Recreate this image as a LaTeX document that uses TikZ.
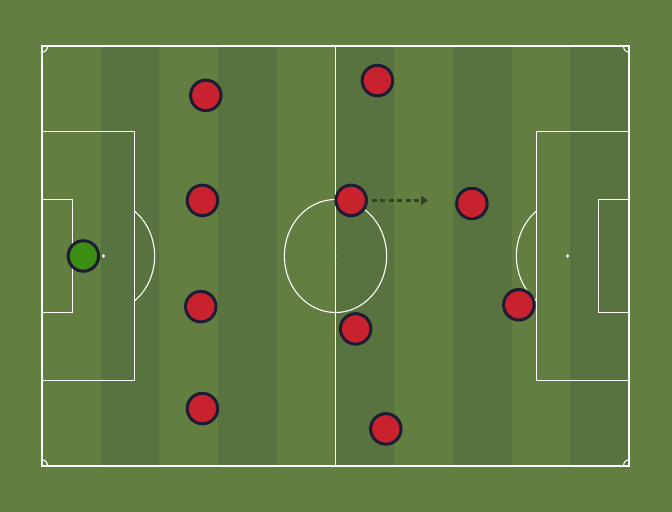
\documentclass[tikz,border=0pt]{standalone}
\usepackage{tikz}
\usetikzlibrary{arrows.meta,shadows}

\definecolor{grass}{RGB}{98,126,65}
\definecolor{stripe}{RGB}{88,115,63}
\definecolor{shirt}{RGB}{200,34,47}
\definecolor{keeper}{RGB}{59,141,19}
\definecolor{rim}{RGB}{29,28,51}
\definecolor{runline}{RGB}{52,67,31}

\tikzset{
  pitchline/.style={white, line width=1.1pt},
  player/.style={circle, fill=shirt, draw=rim, line width=3pt, minimum size=30.5pt, inner sep=0pt,
    drop shadow={opacity=0.25, shadow xshift=0.5pt, shadow yshift=-1pt}},
  goalie/.style={player, fill=keeper},
  run/.style={runline, line width=3pt, dash pattern=on 5pt off 3.5pt, -{Triangle[length=7pt,width=9pt]}}
}

\begin{document}
\begin{tikzpicture}[x=5.5905pt, y=6.176pt]
\fill [grass] (-7.513,-7.448) rectangle (112.69,75.45) ;
\useasboundingbox (-7.513,-7.448) rectangle (112.69,75.45) ;

% stripes
\foreach \i in {1,3,...,9}
  \fill [stripe] (10.5*\i,0) rectangle (10.5*\i+10.5,68) ;

% pitch lines
\draw [pitchline] (0,0) rectangle (105,68) ;
\draw [pitchline] (52.5,0) -- (52.5,68) ;
\draw [pitchline] (52.5,34) circle (9.15) ;
\fill [white] (52.5,34) circle (0.18) ;
\draw [pitchline] (0,13.85) rectangle (16.5,54.15) ;
\draw [pitchline] (0,24.85) rectangle (5.5,43.15) ;
\draw [pitchline] (105,13.85) rectangle (88.5,54.15) ;
\draw [pitchline] (105,24.85) rectangle (99.5,43.15) ;
\fill [white] (11,34) circle (0.3) ;
\fill [white] (94,34) circle (0.3) ;
\draw [pitchline] (11,34) ++(-53.13:9.15) arc [start angle=-53.13, end angle=53.13, radius=9.15] ;
\draw [pitchline] (94,34) ++(126.87:9.15) arc [start angle=126.87, end angle=233.13, radius=9.15] ;
\draw [pitchline] (1,0) arc [start angle=0, end angle=90, radius=1] ;
\draw [pitchline] (0,67) arc [start angle=270, end angle=360, radius=1] ;
\draw [pitchline] (104,68) arc [start angle=180, end angle=270, radius=1] ;
\draw [pitchline] (105,1) arc [start angle=90, end angle=180, radius=1] ;

% players
\node [goalie] (G1) at (7.4,34) {} ;
\node [player] (P1) at (29.3,60) {} ;
\node [player] (P2) at (28.7,43) {} ;
\node [player] (P3) at (28.4,25.8) {} ;
\node [player] (P4) at (28.7,9.3) {} ;
\node [player] (P5) at (60,62.4) {} ;
\node [player] (P6) at (55.3,43) {} ;
\node [player] (P7) at (76.9,42.5) {} ;
\node [player] (P8) at (56.1,22.2) {} ;
\node [player] (P9) at (85.3,26.1) {} ;
\node [player] (P10) at (61.5,6) {} ;

% run
\coordinate (R1) at (69.05,43) ;
\draw [run, shorten <=4pt] (P6) -- (R1) ;

\end{tikzpicture}
\end{document}
